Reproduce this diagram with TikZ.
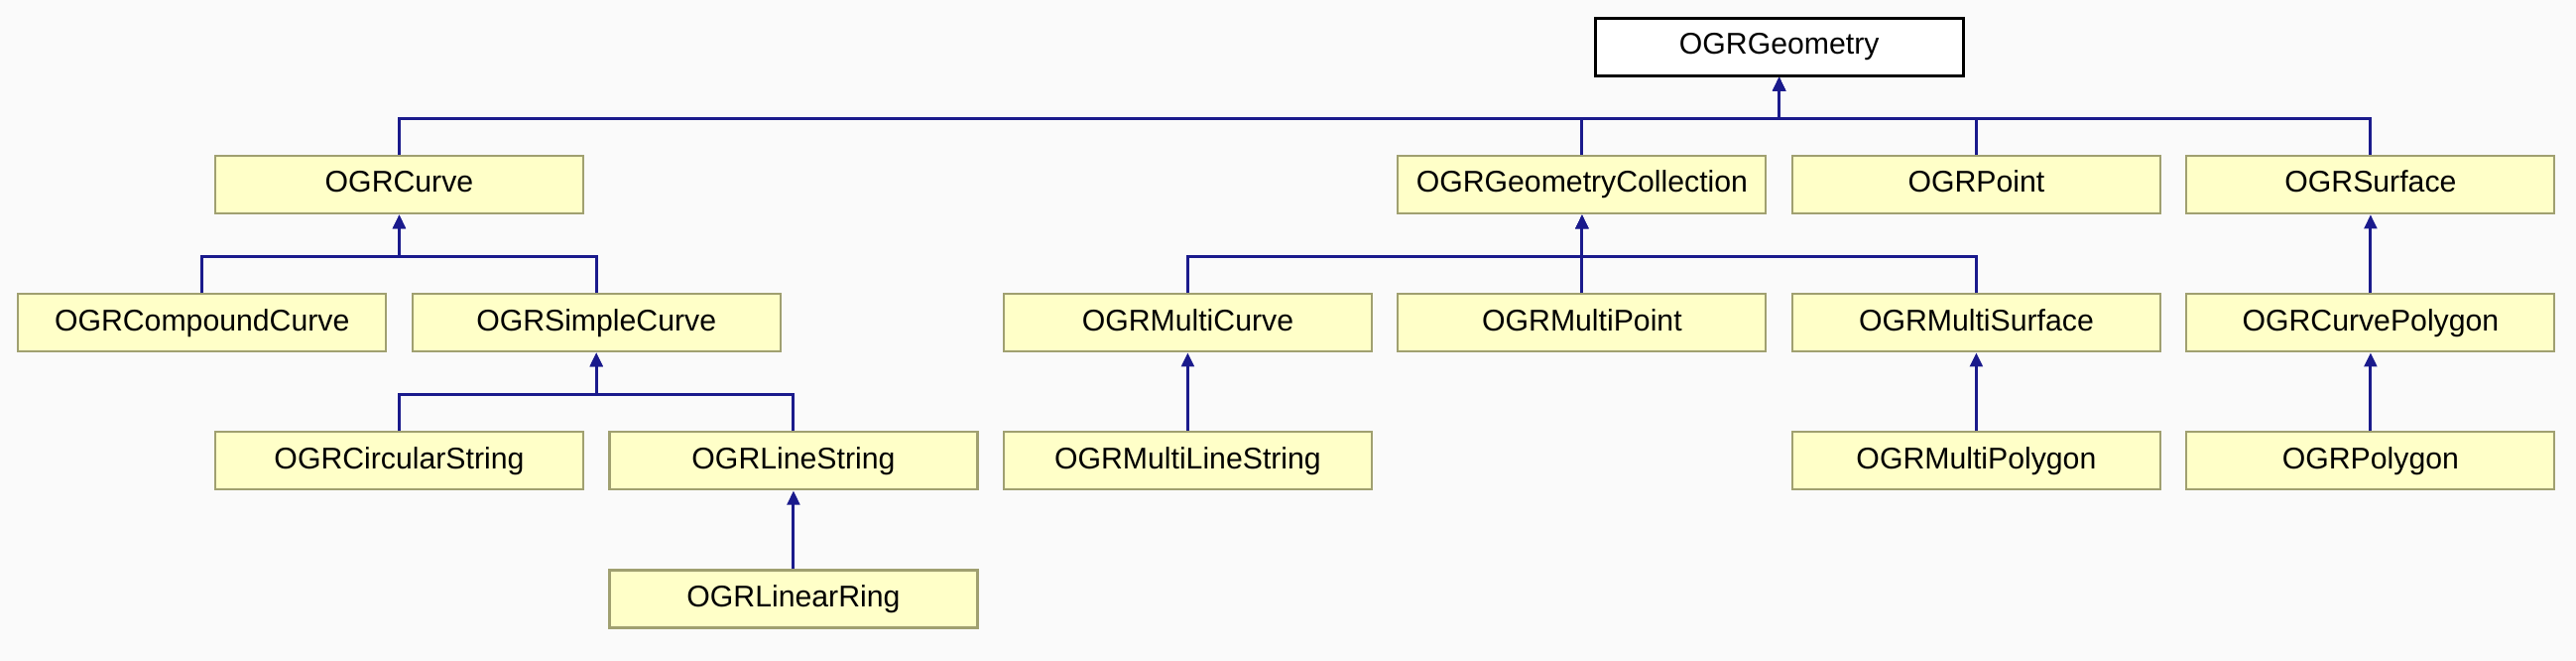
\documentclass[tikz,border=0pt]{standalone}
\usepackage{fontspec}
\setmainfont{Liberation Sans}
\usetikzlibrary{arrows.meta}
\definecolor{boxfill}{HTML}{FFFFC8}
\definecolor{boxline}{HTML}{A0A070}
\definecolor{linkblue}{HTML}{1A1A8C}
\definecolor{bgcol}{HTML}{FAFAFA}
\tikzset{
  cls/.style={draw=boxline, fill=boxfill, line width=0.6pt,
    minimum width=3.71cm, minimum height=0.58cm, inner sep=0pt,
    text height=6.3pt, text depth=1.9pt,
    font=\fontsize{8.6}{10}\selectfont},
  inh/.style={draw=linkblue, line width=0.85pt,
    -{Triangle[length=4pt,width=3.6pt]}}
}

\begin{document}
\begin{tikzpicture}[x=1.9875cm, y=-1.391cm]
    % background and margins
    \fill[bgcol] (-1.025,-0.339) rectangle (12.042,4.449);
    \useasboundingbox (-1.025,-0.339) rectangle (12.042,4.449);

    % root class
    \node[cls, draw=black, fill=white, line width=0.8pt] (geom) at (8,0) {OGRGeometry};

    % derived classes
    \foreach \n/\x/\y/\t in {curve/1/1/OGRCurve, gcoll/7/1/OGRGeometryCollection,
        point/9/1/OGRPoint, surf/11/1/OGRSurface,
        cmpcurve/0/2/OGRCompoundCurve, simplecurve/2/2/OGRSimpleCurve,
        mcurve/5/2/OGRMultiCurve, mpoint/7/2/OGRMultiPoint,
        msurf/9/2/OGRMultiSurface, cpoly/11/2/OGRCurvePolygon,
        circstr/1/3/OGRCircularString, linestr/3/3/OGRLineString,
        mlinestr/5/3/OGRMultiLineString, mpoly/9/3/OGRMultiPolygon,
        poly/11/3/OGRPolygon, linring/3/4/OGRLinearRing}
        \node[cls] (\n) at (\x,\y) {\t};

    % inheritance links
    \foreach \c/\p in {curve/geom, gcoll/geom, point/geom, surf/geom,
        cmpcurve/curve, simplecurve/curve, circstr/simplecurve,
        linestr/simplecurve, linring/linestr, mcurve/gcoll, mpoint/gcoll,
        msurf/gcoll, mlinestr/mcurve, mpoly/msurf, cpoly/surf, poly/cpoly}
        \draw[inh] (\c.north) |- ([yshift=-4.2mm]\p.south) -- (\p.south);
\end{tikzpicture}
\end{document}
